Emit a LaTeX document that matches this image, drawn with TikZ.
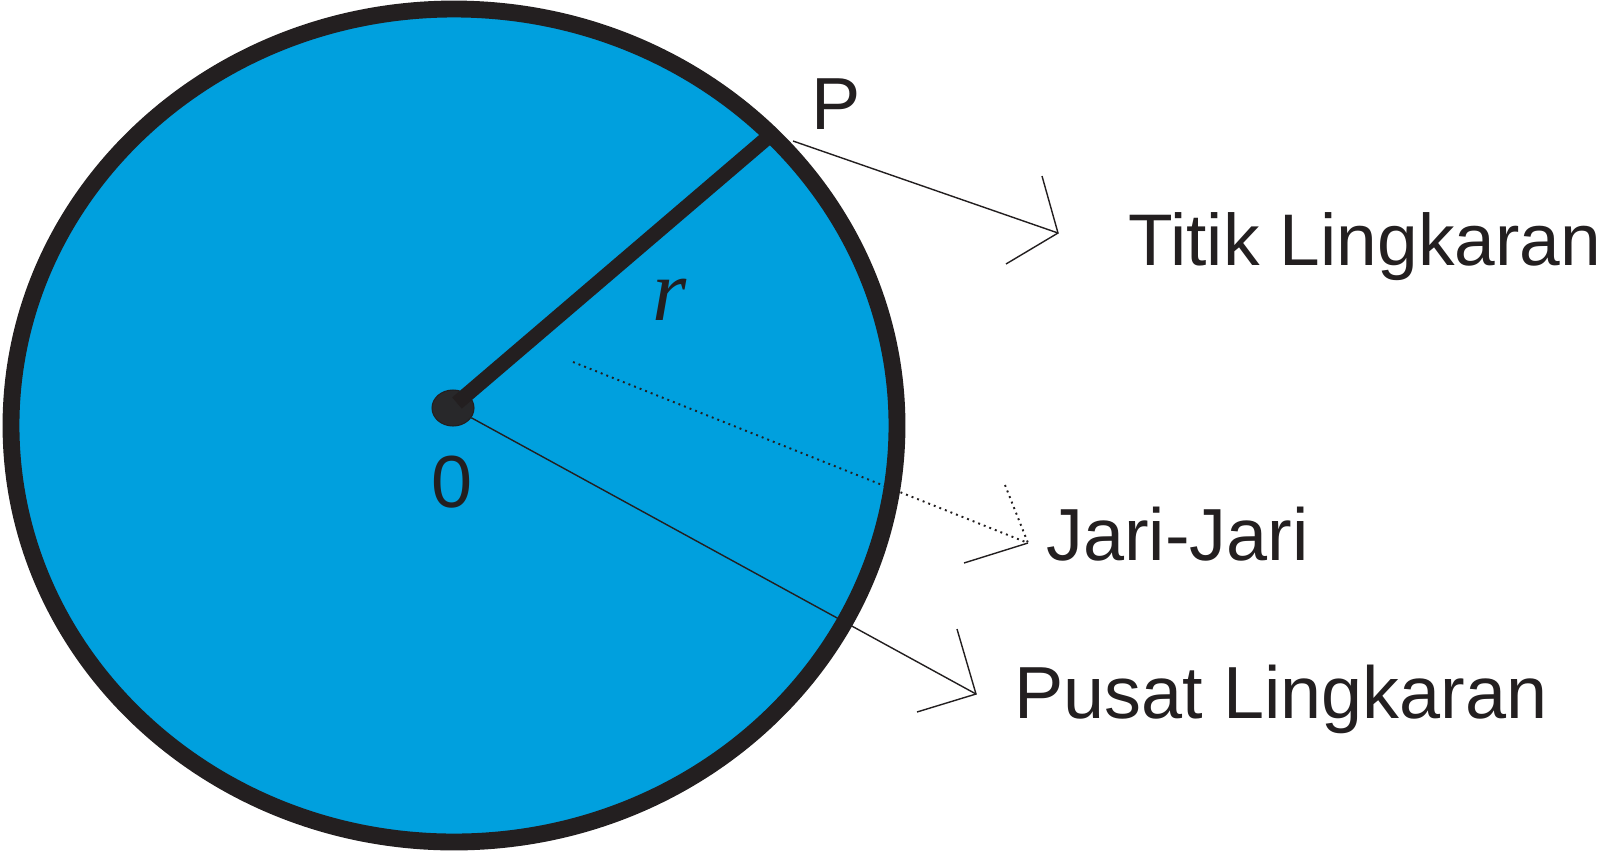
\documentclass[tikz,border=0pt]{standalone}
\usepackage{fontspec}
\usetikzlibrary{shapes.geometric}
\setmainfont{Liberation Sans}
\newfontfamily\serifit{Liberation Serif}
\begin{document}
\begin{tikzpicture}[x=0.02cm,y=-0.02cm,
  lbl/.style={inner sep=0pt,anchor=base west,text=inkblack,font=\fontsize{42}{50}\selectfont},
  thinline/.style={draw=inkblack,line width=0.8pt},
  dotline/.style={draw=inkblack,line width=1.1pt,dash pattern=on 1.1pt off 2.3pt}]
\definecolor{circblue}{RGB}{0,160,222}
\definecolor{inkblack}{RGB}{35,31,32}
\definecolor{dotfill}{RGB}{40,40,42}
\useasboundingbox (0,0) rectangle (1600,853);
\fill[white] (0,0) rectangle (1600,853);
% circle
\draw[fill=circblue,draw=inkblack,line width=9.6pt] (454,425.5) ellipse [x radius=443, y radius=416.5];
% centre dot and radius
\node[ellipse,minimum width=0.84cm,minimum height=0.72cm,inner sep=0pt,fill=dotfill,draw=inkblack,line width=0.6pt] (dot) at (453,408) {};
\coordinate (O) at (457,403);
\coordinate (Pp) at (767,138);
\draw[inkblack,line width=8.4pt] (O) -- (Pp);
% labels
\node[lbl] (P) at (811,129) {P};
\node[lbl,anchor=base] (zero) at (452,507) {0};
\node[lbl,font=\serifit\itshape\fontsize{50}{60}\selectfont] (r) at (652,320) {r};
\node[lbl,font=\fontsize{41.6}{50}\selectfont] (titik) at (1128,265) {Titik Lingkaran};
\node[lbl] (jari) at (1046,560) {Jari-Jari};
\node[lbl] (pusat) at (1014,718) {Pusat Lingkaran};
% Titik pointer
\coordinate (t0) at (793,141);
\coordinate (t1) at (1058,233);
\coordinate (tw1) at (1042,176);
\coordinate (tw2) at (1006,264);
\draw[thinline] (t0) -- (t1);
\draw[thinline] (tw1) -- (t1) -- (tw2);
% Jari pointer
\coordinate (j0) at (573,362);
\coordinate (j1) at (1028,543);
\coordinate (jw1) at (1005,485);
\coordinate (jw2) at (964,563);
\draw[dotline] (j0) -- (j1);
\draw[dotline] (jw1) -- (j1);
\draw[thinline] (j1) -- (jw2);
% Pusat pointer
\coordinate (p1) at (976,694);
\coordinate (pw1) at (957,629);
\coordinate (pw2) at (917,712);
\draw[thinline] (dot.-28) -- (p1);
\draw[thinline] (pw1) -- (p1) -- (pw2);
\end{tikzpicture}
\end{document}
